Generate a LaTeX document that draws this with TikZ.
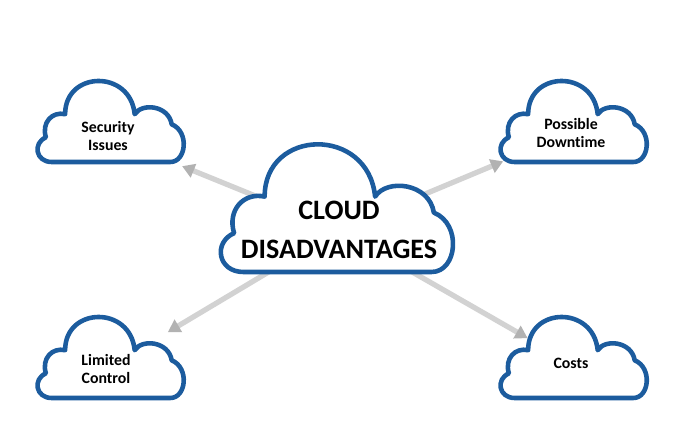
\documentclass[tikz,border=0pt]{standalone}
\usepackage{fontspec}
\setmainfont{Carlito}[Ligatures=NoCommon]
\usetikzlibrary{arrows.meta, backgrounds}
\definecolor{cloudblue}{RGB}{28,92,158}

\tikzset{
  cloud/.pic={
    \draw[draw=cloudblue, line width=2.6pt, fill=white, line join=round]
      (1,0) -- (9,0) .. controls (10.1,0) and (10.3,2.1) .. (9.1,2.6)
      .. controls (8.9,3.9) and (7.1,4.1) .. (6.6,3.3)
      .. controls (6.3,6.4) and (1.9,6.3) .. (1.9,3.3)
      .. controls (1,3.5) and (0.3,2.7) .. (0.6,1.7)
      .. controls (-0.3,1.3) and (-0.1,0) .. (1,0) -- cycle;
  },
  label/.style={font=\bfseries\fontsize{9}{10}\selectfont, align=center},
  link/.style={draw=gray!35, line width=3pt, -{Triangle[length=7pt,width=8pt,color=gray!60]}},
}

\begin{document}
\begin{tikzpicture}
  \useasboundingbox (0,0) rectangle (13.72,8.48);

  \node[font=\bfseries\fontsize{16}{22}\selectfont, align=center] (main) at (6.78,3.88) {CLOUD\\DISADVANTAGES};
  \node[label] (security) at (2.16,5.76) {Security\\Issues};
  \node[label] (downtime) at (11.42,5.82) {Possible\\Downtime};
  \node[label] (control) at (2.12,1.1) {Limited\\Control};
  \node[label] (costs) at (11.42,1.22) {Costs};

  \begin{scope}[on background layer]
    \draw[link, shorten >=1.6cm] (main.center) -- (security.center);
    \draw[link, shorten >=1.47cm] (main.center) -- (downtime.center);
    \draw[link, shorten >=1.44cm] (main.center) -- (control.center);
    \draw[link, shorten >=1.0cm] (main.center) -- (costs.center);

    % clouds
    \pic[xscale=0.47, yscale=0.457] at (4.4,3.04) {cloud};
    \pic[xscale=0.296, yscale=0.29] at (0.74,5.24) {cloud};
    \pic[xscale=0.296, yscale=0.29] at (10,5.24) {cloud};
    \pic[xscale=0.296, yscale=0.29] at (0.74,0.52) {cloud};
    \pic[xscale=0.296, yscale=0.29] at (10,0.52) {cloud};
  \end{scope}
\end{tikzpicture}
\end{document}
